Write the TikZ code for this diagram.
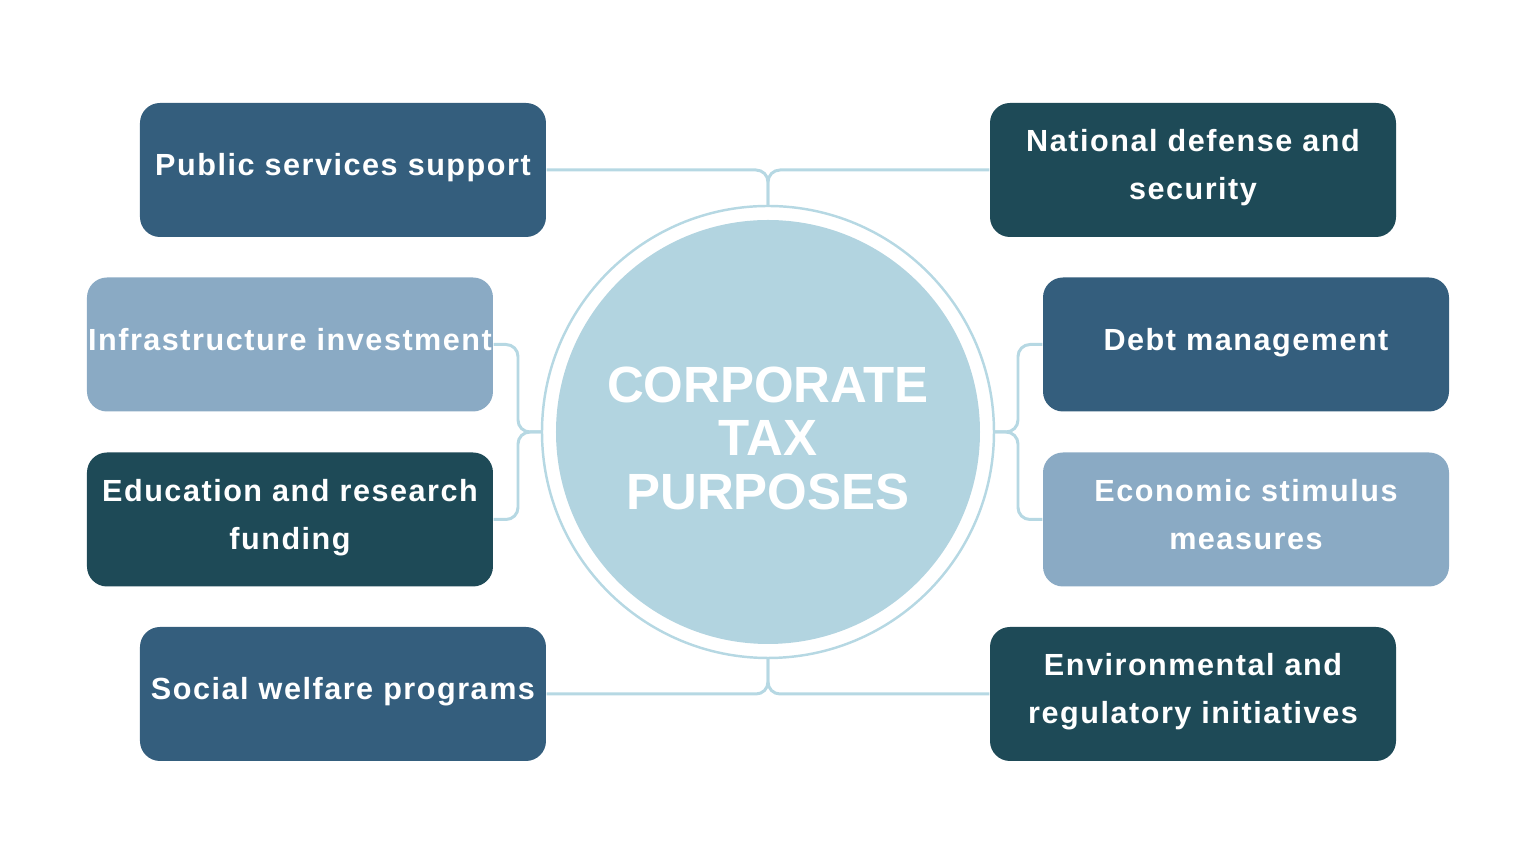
\documentclass[tikz,border=0pt]{standalone}
\usepackage{fontspec}
\setmainfont{Liberation Sans}
\usepackage{xcolor}
\usepackage{tikz}
\usetikzlibrary{positioning, calc}
\definecolor{midblue}{HTML}{345E7D}
\definecolor{deepteal}{HTML}{1E4A57}
\definecolor{paleblue}{HTML}{8AAAC4}
\definecolor{hubcolor}{HTML}{B2D4E0}
\definecolor{linkcolor}{HTML}{B6D8E3}

\begin{document}
\begin{tikzpicture}[
    purpose/.style={rounded corners=0.2cm, minimum width=4.06cm, minimum height=1.34cm, inner sep=0pt, text=white, align=center,
        text depth=3pt, font=\fontsize{8.7}{13.66}\selectfont\bfseries\addfontfeature{LetterSpace=5}},
    link/.style={draw=linkcolor, line width=0.85pt, rounded corners=0.12cm}
]
    \useasboundingbox (-7.68,-4.32) rectangle (7.68,4.32);

    % Central node
    \node[circle, draw=linkcolor, line width=0.7pt, minimum size=4.52cm, inner sep=0pt] (ring) at (0,0) {};
    \node[circle, fill=hubcolor, minimum size=4.24cm, inner sep=0pt, text=white, align=center, text height=44pt,
        font=\fontsize{14.5}{15.1}\selectfont\bfseries] (hub) at (0,0) {CORPORATE\\TAX\\PURPOSES};

    % Purpose nodes
    \node[purpose, fill=midblue] (public) at (-4.25, 2.62) {Public services support};
    \node[purpose, fill=deepteal] (defense) at (4.25, 2.62) {National defense and\\security};
    \node[purpose, fill=paleblue] (infra) at (-4.78, 0.875) {Infrastructure investment};
    \node[purpose, fill=midblue] (debt) at (4.78, 0.875) {Debt management};
    \node[purpose, fill=deepteal] (edu) at (-4.78, -0.875) {Education and research\\funding};
    \node[purpose, fill=paleblue] (stimulus) at (4.78, -0.875) {Economic stimulus\\measures};
    \node[purpose, fill=midblue] (welfare) at (-4.25, -2.62) {Social welfare programs};
    \node[purpose, fill=deepteal] (enviro) at (4.25, -2.62) {Environmental and\\regulatory initiatives};

    % Branch points
    \coordinate (leftfork) at (-2.50, 0);
    \coordinate (rightfork) at (2.50, 0);

    % Links
    \draw[link] (ring.north) |- (public.east);
    \draw[link] (ring.north) |- (defense.west);
    \draw[link] (ring.south) |- (welfare.east);
    \draw[link] (ring.south) |- (enviro.west);
    \draw[link] (ring.west) -- (leftfork) |- (infra.east);
    \draw[link] (ring.west) -- (leftfork) |- (edu.east);
    \draw[link] (ring.east) -- (rightfork) |- (debt.west);
    \draw[link] (ring.east) -- (rightfork) |- (stimulus.west);
\end{tikzpicture}
\end{document}
